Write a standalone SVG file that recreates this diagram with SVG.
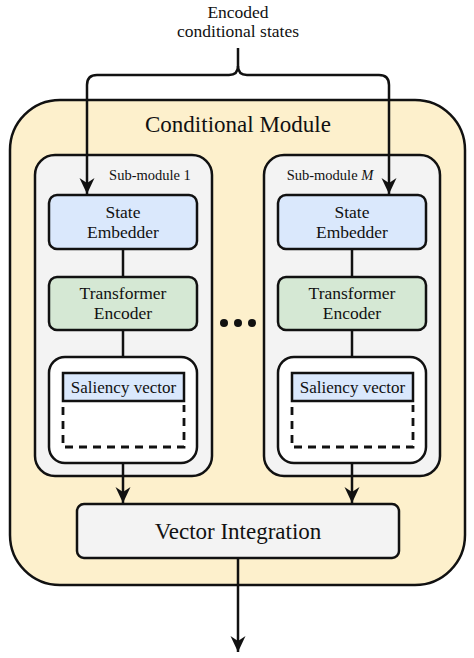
<svg xmlns="http://www.w3.org/2000/svg" width="474" height="658" viewBox="0 0 474 658">
<defs>
<style>
.t{font-family:"Liberation Serif","DejaVu Serif",serif;fill:#111;text-anchor:middle}
.box{stroke:#111;stroke-width:2.5}
.ln{fill:none;stroke:#111;stroke-width:2.5}
.dash{fill:none;stroke:#111;stroke-width:2.8;stroke-dasharray:8,6}
</style>
<marker id="ah" markerUnits="userSpaceOnUse" markerWidth="17" markerHeight="17" viewBox="0 0 17 17" refX="16" refY="8.5" orient="auto">
<path d="M0,1 L16,8.5 L0,16 L5,8.5 z" fill="#111"/>
</marker>
</defs>
<rect width="474" height="658" fill="#fff"/>
<g id="outer">
<rect class="box" x="10" y="100" width="455" height="485" rx="50" fill="#fdf0cc"/>
<text class="t" x="238" y="132" font-size="23">Conditional Module</text>
</g>
<g id="sub1">
<rect class="box" x="35" y="155" width="177" height="321" rx="20" fill="#f3f3f3"/>
<text class="t" x="150" y="180" font-size="14.5">Sub-module 1</text>
</g>
<g id="subM">
<rect class="box" x="264" y="155" width="176" height="321" rx="20" fill="#f3f3f3"/>
<text class="t" x="330" y="180" font-size="14.5">Sub-module <tspan font-style="italic">M</tspan></text>
</g>
<g id="state1">
<rect class="box" x="49" y="195" width="148" height="54" rx="8" fill="#dae8fc"/>
<text class="t" x="123" y="218" font-size="17.5">State</text>
<text class="t" x="123" y="238" font-size="17.5">Embedder</text>
</g>
<g id="stateM">
<rect class="box" x="278" y="195" width="148" height="54" rx="8" fill="#dae8fc"/>
<text class="t" x="352" y="218" font-size="17.5">State</text>
<text class="t" x="352" y="238" font-size="17.5">Embedder</text>
</g>
<g id="trans1">
<rect class="box" x="49" y="277" width="148" height="53" rx="8" fill="#d5e8d4"/>
<text class="t" x="123" y="299" font-size="17.5">Transformer</text>
<text class="t" x="123" y="319" font-size="17.5">Encoder</text>
</g>
<g id="transM">
<rect class="box" x="278" y="277" width="148" height="53" rx="8" fill="#d5e8d4"/>
<text class="t" x="352" y="299" font-size="17.5">Transformer</text>
<text class="t" x="352" y="319" font-size="17.5">Encoder</text>
</g>
<g id="sal1">
<rect class="box" x="49" y="357" width="148" height="106" rx="16" fill="#fff"/>
<rect class="box" x="63" y="373" width="121" height="28" fill="#dae8fc"/>
<text class="t" x="123.5" y="393" font-size="17">Saliency vector</text>
<path class="dash" d="M63,407 V447 H184 V405"/>
</g>
<g id="salM">
<rect class="box" x="278" y="357" width="148" height="106" rx="16" fill="#fff"/>
<rect class="box" x="292" y="373" width="121" height="28" fill="#dae8fc"/>
<text class="t" x="352.5" y="393" font-size="17">Saliency vector</text>
<path class="dash" d="M292,407 V447 H413 V405"/>
</g>
<g id="integration">
<rect class="box" x="77" y="504" width="322" height="54" rx="7" fill="#f3f3f3"/>
<text class="t" x="238" y="539" font-size="23">Vector Integration</text>
</g>
<g id="input">
<text class="t" x="238" y="18" font-size="17.5">Encoded</text>
<text class="t" x="238" y="37" font-size="17.5">conditional states</text>
</g>
<g id="dots" fill="#111">
<circle cx="224" cy="323" r="4"/>
<circle cx="238" cy="323" r="4"/>
<circle cx="252" cy="323" r="4"/>
</g>
<g id="connectors">
<path class="ln" d="M238,48 V66 Q238,75 229,75 H97 Q87,75 87,85 V194" marker-end="url(#ah)"/>
<path class="ln" d="M238,66 Q238,75 247,75 H379 Q389,75 389,85 V194" marker-end="url(#ah)"/>
<path class="ln" d="M123,249 V277"/>
<path class="ln" d="M352,249 V277"/>
<path class="ln" d="M123,330 V357"/>
<path class="ln" d="M352,330 V357"/>
<path class="ln" d="M123,463 V503" marker-end="url(#ah)"/>
<path class="ln" d="M352,463 V503" marker-end="url(#ah)"/>
<path class="ln" d="M238,558 V652" marker-end="url(#ah)"/>
</g>
</svg>
